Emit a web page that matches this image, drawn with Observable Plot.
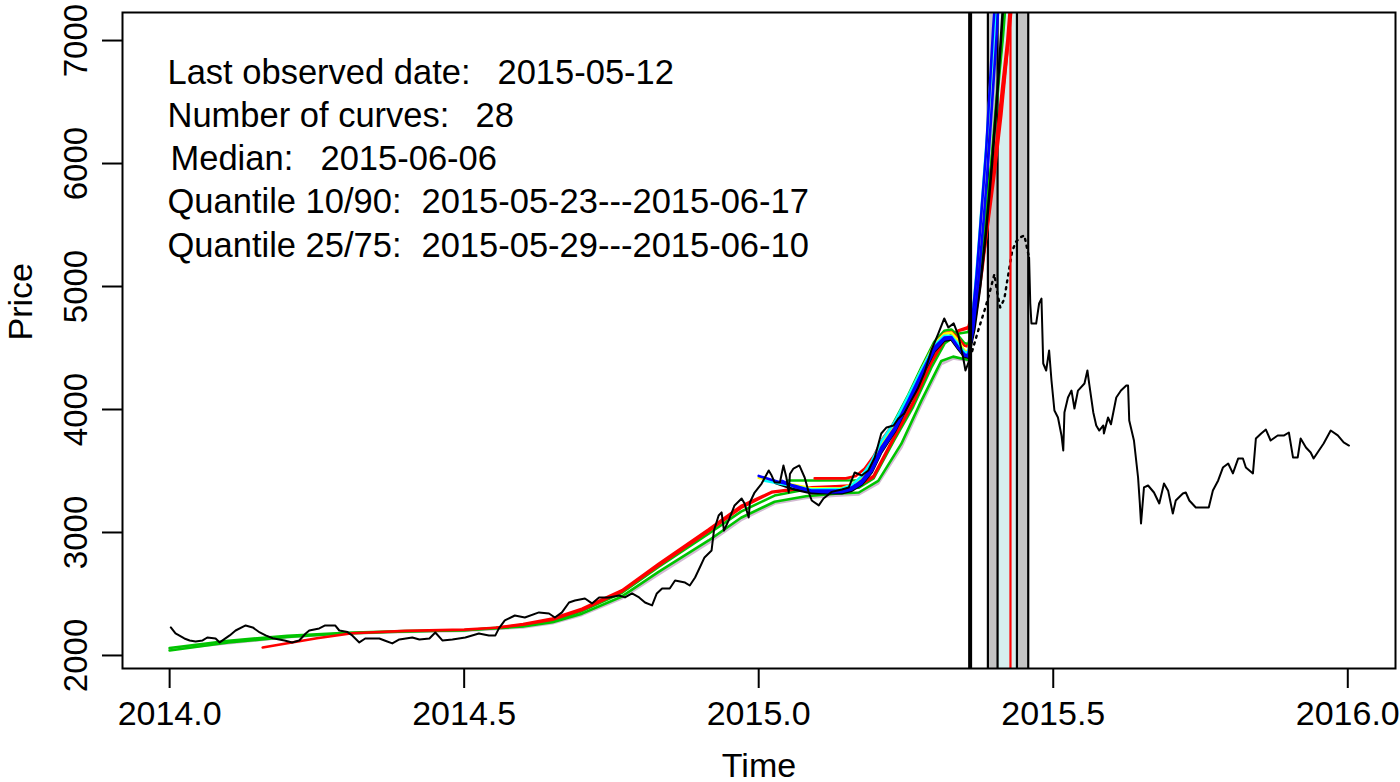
<!DOCTYPE html>
<html><head><meta charset="utf-8">
<script src="https://cdn.jsdelivr.net/npm/d3@7"></script>
<script src="https://cdn.jsdelivr.net/npm/@observablehq/plot@0.6"></script>
<style>
html,body{margin:0;padding:0;background:#fff;}
svg text{white-space:pre;}
</style></head><body><div id="chart"></div>
<script>
// ---------- info / band dates ----------
const lastObservedDate = "2015-05-12";
const numberOfCurves = 28;
const medianDate = "2015-06-06";
const quantile10_90 = ["2015-05-23", "2015-06-17"];
const quantile25_75 = ["2015-05-29", "2015-06-10"];

const infoLabels = ["Last observed date:", "Number of curves:", "Median:", "Quantile 10/90:", "Quantile 25/75:"];
const infoValues = [lastObservedDate, String(numberOfCurves), medianDate,
  quantile10_90.join("---"), quantile25_75.join("---")];

// ---------- axes ----------
const xTicks = [2014.0, 2014.5, 2015.0, 2015.5, 2016.0];
const yTicks = [2000, 3000, 4000, 5000, 6000, 7000];

// ---------- observed price (decimal year, price) ----------
const priceObserved = [[2014.002,2228],[2014.010,2179],[2014.025,2138],[2014.034,2122],[2014.044,2114],[2014.056,2122],[2014.064,2146],[2014.078,2138],[2014.085,2106],[2014.102,2163],[2014.112,2203],[2014.129,2244],[2014.141,2228],[2014.153,2187],[2014.163,2163],[2014.175,2140],[2014.195,2122],[2014.208,2106],[2014.220,2122],[2014.231,2179],[2014.237,2203],[2014.254,2220],[2014.264,2244],[2014.281,2244],[2014.288,2203],[2014.302,2190],[2014.310,2163],[2014.322,2106],[2014.332,2138],[2014.356,2138],[2014.366,2120],[2014.378,2098],[2014.390,2130],[2014.412,2146],[2014.424,2130],[2014.441,2138],[2014.451,2187],[2014.463,2122],[2014.480,2130],[2014.502,2146],[2014.525,2179],[2014.542,2163],[2014.553,2163],[2014.559,2220],[2014.569,2285],[2014.586,2325],[2014.603,2309],[2014.627,2350],[2014.644,2341],[2014.654,2309],[2014.666,2350],[2014.678,2431],[2014.688,2447],[2014.705,2463],[2014.717,2423],[2014.729,2472],[2014.746,2472],[2014.763,2488],[2014.773,2472],[2014.785,2504],[2014.797,2472],[2014.807,2431],[2014.819,2407],[2014.827,2504],[2014.836,2545],[2014.849,2545],[2014.858,2610],[2014.875,2593],[2014.883,2569],[2014.892,2634],[2014.900,2715],[2014.908,2797],[2014.920,2854],[2014.924,3016],[2014.932,3138],[2014.937,3163],[2014.941,3016],[2014.949,3098],[2014.959,3220],[2014.971,3276],[2014.976,3236],[2014.983,3122],[2014.985,3244],[2014.993,3325],[2015.005,3398],[2015.017,3504],[2015.022,3463],[2015.027,3407],[2015.036,3407],[2015.042,3545],[2015.047,3447],[2015.051,3325],[2015.053,3475],[2015.059,3520],[2015.069,3545],[2015.078,3447],[2015.085,3325],[2015.090,3260],[2015.102,3220],[2015.110,3276],[2015.124,3330],[2015.141,3350],[2015.153,3366],[2015.163,3488],[2015.175,3463],[2015.186,3504],[2015.197,3610],[2015.208,3805],[2015.217,3854],[2015.229,3870],[2015.237,3927],[2015.247,3967],[2015.259,4073],[2015.271,4179],[2015.281,4293],[2015.293,4480],[2015.305,4618],[2015.315,4740],[2015.322,4667],[2015.331,4700],[2015.339,4602],[2015.347,4423],[2015.351,4317],[2015.359,4420]];

// price inside the prediction band (drawn dotted)
const priceInBand = [[2015.359,4420],[2015.367,4550],[2015.375,4680],[2015.383,4800],[2015.392,4950],[2015.400,5100],[2015.405,4950],[2015.410,4830],[2015.417,4900],[2015.422,5050],[2015.430,5280],[2015.436,5360],[2015.444,5400],[2015.451,5415],[2015.456,5300],[2015.459,5236]];

// price after the band
const priceAfter = [[2015.459,5236],[2015.461,4862],[2015.463,4699],[2015.471,4699],[2015.476,4862],[2015.480,4902],[2015.483,4374],[2015.488,4317],[2015.493,4480],[2015.497,4236],[2015.502,3992],[2015.508,3935],[2015.514,3789],[2015.517,3667],[2015.519,3976],[2015.525,4098],[2015.531,4154],[2015.536,4008],[2015.542,4154],[2015.553,4211],[2015.558,4317],[2015.561,4211],[2015.568,3976],[2015.573,3870],[2015.578,3829],[2015.585,3870],[2015.586,3805],[2015.593,3935],[2015.598,3880],[2015.607,4098],[2015.615,4154],[2015.624,4195],[2015.627,4195],[2015.629,3911],[2015.637,3748],[2015.644,3447],[2015.647,3236],[2015.649,3073],[2015.654,3366],[2015.661,3382],[2015.671,3325],[2015.680,3236],[2015.688,3398],[2015.695,3340],[2015.703,3154],[2015.708,3260],[2015.720,3317],[2015.725,3325],[2015.731,3260],[2015.742,3203],[2015.764,3203],[2015.771,3341],[2015.780,3423],[2015.788,3528],[2015.797,3561],[2015.805,3480],[2015.814,3602],[2015.822,3602],[2015.827,3528],[2015.839,3480],[2015.844,3764],[2015.853,3805],[2015.861,3837],[2015.869,3748],[2015.881,3789],[2015.892,3789],[2015.900,3813],[2015.907,3610],[2015.915,3610],[2015.920,3764],[2015.929,3691],[2015.937,3650],[2015.942,3602],[2015.951,3667],[2015.959,3724],[2015.971,3829],[2015.983,3789],[2015.993,3732],[2016.002,3707]];

// ---------- fitted curves ----------
const thistleLong = [[2014.000,2050],[2014.100,2100],[2014.200,2148],[2014.300,2178],[2014.400,2192],[2014.500,2200],[2014.600,2228],[2014.650,2262],[2014.700,2330],[2014.768,2465],[2014.830,2660],[2014.915,2915],[2014.970,3100],[2015.027,3235],[2015.080,3280],[2015.130,3300],[2015.170,3310],[2015.203,3400],[2015.242,3690],[2015.276,4040],[2015.310,4370],[2015.330,4415],[2015.344,4405],[2015.359,4395]];
const greenLongLow = [[2014.000,2040],[2014.100,2105],[2014.200,2150],[2014.300,2180],[2014.400,2195],[2014.500,2205],[2014.600,2235],[2014.650,2270],[2014.700,2340],[2014.768,2480],[2014.830,2680],[2014.915,2935],[2014.970,3120],[2015.027,3250],[2015.080,3295],[2015.130,3315],[2015.170,3325],[2015.203,3420],[2015.242,3720],[2015.276,4070],[2015.310,4395],[2015.330,4430],[2015.344,4415],[2015.359,4400]];
const greenLongUp = [[2014.000,2060],[2014.100,2120],[2014.200,2160],[2014.300,2185],[2014.400,2198],[2014.500,2205],[2014.600,2240],[2014.650,2280],[2014.700,2360],[2014.768,2510],[2014.830,2720],[2014.915,2990],[2014.970,3170],[2015.027,3300],[2015.080,3350],[2015.130,3360],[2015.170,3365],[2015.195,3440],[2015.230,3750],[2015.262,4020],[2015.293,4340],[2015.316,4540],[2015.340,4618],[2015.356,4630],[2015.365,4850],[2015.380,5350],[2015.395,6000],[2015.405,6600],[2015.413,7000],[2015.418,7300]];
const redFromMar = [[2014.158,2065],[2014.200,2100],[2014.250,2140],[2014.310,2180],[2014.400,2200],[2014.500,2210],[2014.560,2228],[2014.600,2250],[2014.650,2290],[2014.700,2370],[2014.768,2520],[2014.830,2730],[2014.915,3010],[2014.970,3200],[2015.022,3325],[2015.080,3360],[2015.130,3370],[2015.170,3380],[2015.195,3450],[2015.230,3770],[2015.262,4050],[2015.293,4380],[2015.316,4570],[2015.340,4640],[2015.356,4660],[2015.370,4900],[2015.385,5350],[2015.400,5900],[2015.412,6400],[2015.422,6900],[2015.428,7300]];
const redFromJul = [[2014.556,2228],[2014.600,2255],[2014.650,2300],[2014.700,2380],[2014.768,2530],[2014.830,2745],[2014.915,3025],[2014.970,3215],[2015.022,3330],[2015.080,3365],[2015.130,3375],[2015.170,3385],[2015.195,3460],[2015.230,3780],[2015.262,4060],[2015.293,4390],[2015.316,4575],[2015.340,4645],[2015.356,4670],[2015.372,5000],[2015.388,5500],[2015.403,6100],[2015.415,6600],[2015.424,7000],[2015.430,7300]];
const greenFromFeb = [[2015.050,3423],[2015.100,3423],[2015.170,3425],[2015.185,3480],[2015.200,3600],[2015.215,3760],[2015.231,3910],[2015.254,4120],[2015.276,4340],[2015.298,4550],[2015.315,4640],[2015.327,4650],[2015.339,4600],[2015.349,4540],[2015.356,4530],[2015.367,4800],[2015.378,5200],[2015.389,5700],[2015.400,6250],[2015.408,6700],[2015.415,7050],[2015.419,7300]];
const redFromFeb = [[2015.095,3440],[2015.148,3440],[2015.165,3460],[2015.180,3520],[2015.195,3620],[2015.210,3760],[2015.231,3900],[2015.254,4100],[2015.276,4320],[2015.298,4530],[2015.315,4620],[2015.327,4630],[2015.339,4580],[2015.349,4520],[2015.356,4510],[2015.368,4750],[2015.380,5150],[2015.392,5650],[2015.404,6200],[2015.414,6650],[2015.422,7000],[2015.427,7300]];
const blackFromJan = [[2015.030,3400],[2015.061,3350],[2015.090,3320],[2015.141,3320],[2015.158,3340],[2015.175,3390],[2015.192,3490],[2015.208,3650],[2015.231,3820],[2015.254,4040],[2015.276,4260],[2015.298,4470],[2015.315,4560],[2015.327,4570],[2015.339,4490],[2015.349,4430],[2015.356,4420],[2015.366,4650],[2015.376,5000],[2015.386,5450],[2015.396,6000],[2015.404,6500],[2015.411,7000],[2015.415,7300]];
const yellowFromJan = [[2015.000,3445],[2015.020,3420],[2015.039,3400],[2015.061,3385],[2015.090,3360],[2015.141,3360],[2015.158,3390],[2015.175,3450],[2015.192,3560],[2015.208,3720],[2015.231,3880],[2015.254,4100],[2015.276,4320],[2015.298,4530],[2015.315,4615],[2015.327,4625],[2015.339,4560],[2015.349,4480],[2015.356,4470],[2015.363,4750],[2015.371,5150],[2015.379,5650],[2015.387,6150],[2015.393,6650],[2015.399,7100],[2015.402,7300]];
const cyanFromJan = [[2015.010,3420],[2015.039,3395],[2015.061,3375],[2015.090,3350],[2015.141,3355],[2015.158,3385],[2015.175,3460],[2015.192,3580],[2015.208,3740],[2015.231,3900],[2015.254,4110],[2015.276,4320],[2015.298,4520],[2015.315,4600],[2015.327,4600],[2015.339,4530],[2015.349,4470],[2015.356,4460],[2015.364,4800],[2015.372,5250],[2015.380,5750],[2015.388,6250],[2015.394,6700],[2015.400,7100],[2015.403,7300]];
const blue2FromFeb = [[2015.040,3420],[2015.061,3370],[2015.090,3335],[2015.120,3325],[2015.141,3330],[2015.158,3350],[2015.175,3400],[2015.192,3500],[2015.208,3660],[2015.231,3830],[2015.254,4050],[2015.276,4270],[2015.298,4480],[2015.315,4570],[2015.327,4580],[2015.339,4500],[2015.349,4440],[2015.356,4430],[2015.364,4650],[2015.373,5050],[2015.382,5550],[2015.390,6050],[2015.397,6550],[2015.404,7050],[2015.407,7300]];
const blueFromJan = [[2015.000,3460],[2015.020,3430],[2015.039,3405],[2015.061,3380],[2015.090,3340],[2015.141,3340],[2015.158,3366],[2015.175,3423],[2015.192,3528],[2015.208,3691],[2015.231,3854],[2015.254,4073],[2015.276,4293],[2015.298,4504],[2015.315,4585],[2015.327,4590],[2015.339,4504],[2015.349,4450],[2015.356,4440],[2015.362,4700],[2015.370,5100],[2015.378,5600],[2015.386,6100],[2015.392,6600],[2015.398,7100],[2015.401,7300]];

const curveSeries = [thistleLong, greenLongLow, greenLongUp, redFromMar, redFromJul, greenFromFeb, redFromFeb, blackFromJan, yellowFromJan, cyanFromJan, blue2FromFeb, blueFromJan];
const curveColors = ["#d2b9d2", "#00c400", "#00c400", "#ff0000", "#ff0000", "#00c400", "#ff0000", "#000000", "#ffff00", "#00ffff", "#0000ff", "#0000ff"];

// ---------- helpers ----------
function decYear(s) {
  const d = new Date(s + "T00:00:00Z");
  const start = Date.UTC(d.getUTCFullYear(), 0, 1);
  return d.getUTCFullYear() + (d - start) / 86400000 / 365;
}
const toRows = (arr, extra = {}) => arr.map(([t, v]) => ({t, v, ...extra}));

const curveRows = curveSeries.flatMap((arr, i) => toRows(arr, {id: i, color: curveColors[i]}));

const tLast = decYear(lastObservedDate);
const tMed = decYear(medianDate);
const q10 = decYear(quantile10_90[0]), q90 = decYear(quantile10_90[1]);
const q25 = decYear(quantile25_75[0]), q75 = decYear(quantile25_75[1]);

const font = "'Liberation Sans', Arial, sans-serif";
// horizontal offsets (px from the frame's left edge) of label and value columns
const labelDx = [45, 45, 48, 45, 45];
const valueDx = [375, 353, 198, 299, 299];

const infoMarks = infoLabels.flatMap((lab, i) => [
  Plot.text([lab], {
    text: d => d, frameAnchor: "top-left", dx: labelDx[i], dy: 60 + i * 43.3,
    textAnchor: "start", lineAnchor: "middle", fontSize: 34.5, fill: "black"
  }),
  Plot.text([infoValues[i]], {
    text: d => d, frameAnchor: "top-left", dx: valueDx[i], dy: 60 + i * 43.3,
    textAnchor: "start", lineAnchor: "middle", fontSize: 34.5, fill: "black"
  })
]);

const chart = Plot.plot({
  width: 1400, height: 782,
  marginLeft: 122, marginRight: 5, marginTop: 12, marginBottom: 114,
  style: {fontFamily: font, background: "white", overflow: "visible"},
  x: {domain: [2013.92, 2016.081]},
  y: {domain: [1894, 7228]},
  marks: [
    Plot.rect([[q10, q90]], {x1: d => d[0], x2: d => d[1], fill: "#c4c4c4"}),
    Plot.rect([[q25, q75]], {x1: d => d[0], x2: d => d[1], fill: "#d6eeee"}),
    Plot.ruleX([q10, q25, q75, q90], {stroke: "black", strokeWidth: 2.2}),
    Plot.line(curveRows, {x: "t", y: "v", z: "id", stroke: "color", strokeWidth: 2.6, clip: true, curve: "linear"}),
    Plot.line(toRows(priceObserved), {x: "t", y: "v", stroke: "black", strokeWidth: 2}),
    Plot.line(toRows(priceInBand), {x: "t", y: "v", stroke: "black", strokeWidth: 2.4, strokeDasharray: "2,5"}),
    Plot.line(toRows(priceAfter), {x: "t", y: "v", stroke: "black", strokeWidth: 2}),
    Plot.ruleX([tLast], {stroke: "black", strokeWidth: 4}),
    Plot.ruleX([tMed], {stroke: "#ff0000", strokeWidth: 2.2}),
    Plot.frame({stroke: "black", strokeWidth: 2}),
    Plot.axisX({ticks: xTicks, tickSize: 20, tickPadding: 12, tickFormat: d => d.toFixed(1),
      fontSize: 34, label: null, strokeWidth: 2}),
    Plot.axisY({ticks: yTicks, tickSize: 20, tickPadding: 16, tickRotate: -90, tickFormat: d => String(d),
      fontSize: 33, label: null, strokeWidth: 2}),
    Plot.text(["Time"], {text: d => d, frameAnchor: "bottom", dy: 98, fontSize: 34, lineAnchor: "middle"}),
    Plot.text(["Price"], {text: d => d, frameAnchor: "left", dx: -101, rotate: -90, fontSize: 34, lineAnchor: "middle"}),
    ...infoMarks
  ]
});
document.getElementById("chart").appendChild(chart);
</script></body></html>
